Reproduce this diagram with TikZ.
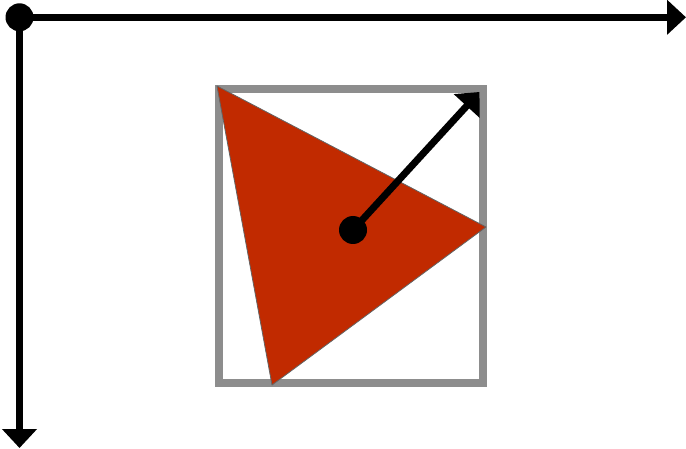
\documentclass[tikz,border=0pt]{standalone}
\usetikzlibrary{arrows.meta}
\definecolor{boxgray}{RGB}{141,141,141}
\definecolor{trired}{RGB}{193,42,0}
\definecolor{edgegray}{RGB}{100,100,100}
\tikzset{
  axisline/.style={line width=7pt, -{Triangle[length=19pt,width=34pt]}},
  dotmark/.style={circle, fill=black, inner sep=0pt, minimum size=28pt},
  framebox/.style={draw=boxgray, line width=7.5pt},
  trishape/.style={fill=trired, draw=edgegray, line width=0.8pt, line join=round}
}
\begin{document}
\begin{tikzpicture}[x=1pt,y=-1pt]
\useasboundingbox (0,0) rectangle (686,449);
% axes
\coordinate (O) at (19.5,17.3);
\coordinate (X) at (686,17.3);
\coordinate (Y) at (19.5,448);
\draw[axisline] (O) -- (X);
\draw[axisline] (O) -- (Y);
\node[dotmark] (odot) at (O) {};
% bounding frame
\coordinate (B1) at (219,89);
\coordinate (B2) at (483,383);
\draw[framebox] (B1) rectangle (B2);
% triangle
\coordinate (T1) at (217,86);
\coordinate (T2) at (486,227);
\coordinate (T3) at (272,385);
\filldraw[trishape] (T1) -- (T2) -- (T3) -- cycle;
% center and direction
\coordinate (C) at (353,230);
\coordinate (D) at (479.5,92);
\draw[axisline] (C) -- (D);
\node[dotmark] (cdot) at (C) {};
\end{tikzpicture}
\end{document}
